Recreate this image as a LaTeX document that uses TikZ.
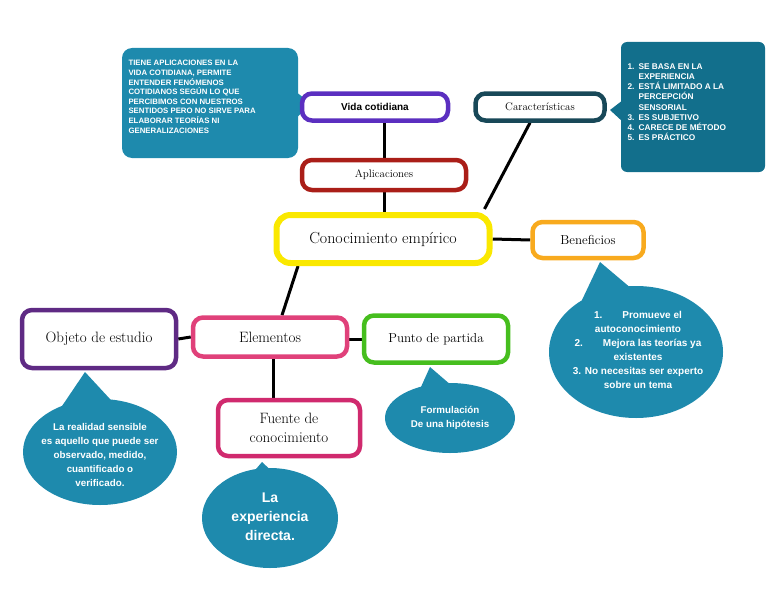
\documentclass[tikz,border=0pt]{standalone}
\usepackage{fontspec}
\usetikzlibrary{backgrounds}
\newfontfamily\sansb{Liberation Sans}
\begin{document}
\begin{tikzpicture}[x=1pt,y=-1pt,
 box/.style={draw,line width=4.5pt,rounded corners=10pt,fill=white,align=center,inner sep=0pt},
 conn/.style={line width=3pt,black},
 btxt/.style={text=white,font=\sansb\bfseries,align=center}]
\definecolor{bubc}{HTML}{1E8AAD}
\definecolor{bubd}{HTML}{126F8C}
\useasboundingbox (0,0) rectangle (768,594);
% callouts
\fill[bubc,rounded corners=10pt] (122,48) rectangle (298,158);
\fill[bubc] (296,92) -- (312,104) -- (296,118) -- cycle;
\node[btxt,font=\sansb\bfseries\fontsize{7.8}{9.6}\selectfont,align=left,anchor=north west] (t1) at (125,57) {TIENE APLICACIONES EN LA\\VIDA COTIDIANA, PERMITE\\ENTENDER FENÓMENOS\\COTIDIANOS SEGÚN LO QUE\\PERCIBIMOS CON NUESTROS\\SENTIDOS PERO NO SIRVE PARA\\ELABORAR TEORÍAS NI\\GENERALIZACIONES};
\fill[bubd,rounded corners=6pt] (621,42) rectangle (765,172);
\fill[bubd] (623,100) -- (610,110) -- (623,122) -- cycle;
\node[btxt,font=\sansb\bfseries\fontsize{8.3}{10.2}\selectfont,align=left,anchor=north west] (t2) at (624,60) {1.\enspace SE BASA EN LA\\\phantom{1.\enspace }EXPERIENCIA\\2.\enspace ESTÁ LIMITADO A LA\\\phantom{1.\enspace }PERCEPCIÓN\\\phantom{1.\enspace }SENSORIAL\\3.\enspace ES SUBJETIVO\\4.\enspace CARECE DE MÉTODO\\5.\enspace ES PRÁCTICO};
\fill[bubc] (636,352) ellipse [x radius=87,y radius=66];
\fill[bubc] (600,262) -- (582,300) -- (645,300) -- cycle;
\node[btxt,font=\sansb\bfseries\fontsize{10}{14}\selectfont] (t3) at (638,350) {1.\qquad Promueve el\\autoconocimiento\\2.\qquad Mejora las teorías ya\\existentes\\3. No necesitas ser experto\\sobre un tema};
\fill[bubc] (100,452) ellipse [x radius=77,y radius=53];
\fill[bubc] (85,372) -- (58,412) -- (122,412) -- cycle;
\node[btxt,font=\sansb\bfseries\fontsize{9.8}{14}\selectfont] (t4) at (100,455) {La realidad sensible\\es aquello que puede ser\\observado, medido,\\cuantificado o\\verificado.};
\fill[bubc] (270,518) ellipse [x radius=68,y radius=50];
\fill[bubc] (262,462) -- (238,490) -- (292,490) -- cycle;
\node[btxt,font=\sansb\bfseries\fontsize{14}{19}\selectfont] (t5) at (270,517) {La\\experiencia\\directa.};
\fill[bubc] (450,418) ellipse [x radius=65,y radius=35];
\fill[bubc] (430,367) -- (416,398) -- (466,398) -- cycle;
\node[btxt,font=\sansb\bfseries\fontsize{9.8}{14}\selectfont] (t6) at (450,418) {Formulación\\De una hipótesis};
% nodes
\node[box,draw={rgb,255:red,91;green,47;blue,192},minimum width=146pt,minimum height=27pt,font=\sansb\bfseries\fontsize{10}{12}\selectfont] (vida) at (375,107) {Vida cotidiana};
\node[box,draw={rgb,255:red,24;green,72;blue,88},minimum width=129pt,minimum height=27pt,font=\fontsize{11}{13}\selectfont] (car) at (540,107) {Características};
\node[box,draw={rgb,255:red,170;green,30;blue,24},minimum width=164pt,minimum height=30pt,font=\fontsize{11}{13}\selectfont] (apl) at (384,175) {Aplicaciones};
\node[box,draw={rgb,255:red,250;green,232;blue,0},line width=6pt,rounded corners=14pt,minimum width=213pt,minimum height=48pt,font=\fontsize{16}{19}\selectfont] (con) at (383,239) {Conocimiento empírico};
\node[box,draw={rgb,255:red,248;green,170;blue,30},minimum width=111pt,minimum height=36pt,font=\fontsize{13}{15}\selectfont] (ben) at (588,240) {Beneficios};
\node[box,draw={rgb,255:red,224;green,65;blue,122},minimum width=154pt,minimum height=39pt,font=\fontsize{15}{17}\selectfont] (ele) at (270,337) {Elementos};
\node[box,draw={rgb,255:red,95;green,42;blue,132},minimum width=154pt,minimum height=58pt,font=\fontsize{15}{17}\selectfont] (obj) at (99,339) {Objeto de estudio};
\node[box,draw={rgb,255:red,70;green,190;blue,30},minimum width=144pt,minimum height=47pt,font=\fontsize{13}{15}\selectfont] (pun) at (436,339) {Punto de partida};
\node[box,draw={rgb,255:red,208;green,42;blue,110},minimum width=142pt,minimum height=56pt,font=\fontsize{15}{19}\selectfont] (fue) at (289,428) {Fuente de\\conocimiento};
% connectors
\begin{scope}[on background layer]
\draw[conn] (vida.south -| apl.north) -- (apl.north);
\draw[conn] (apl.south) -- (apl.south |- con.north);
\draw[conn] ([xshift=-10pt]car.south) -- ([xshift=-8pt,yshift=3pt]con.north east);
\draw[conn] (con.east) -- (ben.west);
\draw[conn] ([xshift=-85pt]con.south) -- ([xshift=12pt]ele.north);
\draw[conn] (obj.east) -- (ele.west);
\draw[conn] (ele.east |- pun.west) -- (pun.west);
\draw[conn] ([xshift=3pt]ele.south) -- ([xshift=-16pt]fue.north);
\end{scope}
\end{tikzpicture}
\end{document}
